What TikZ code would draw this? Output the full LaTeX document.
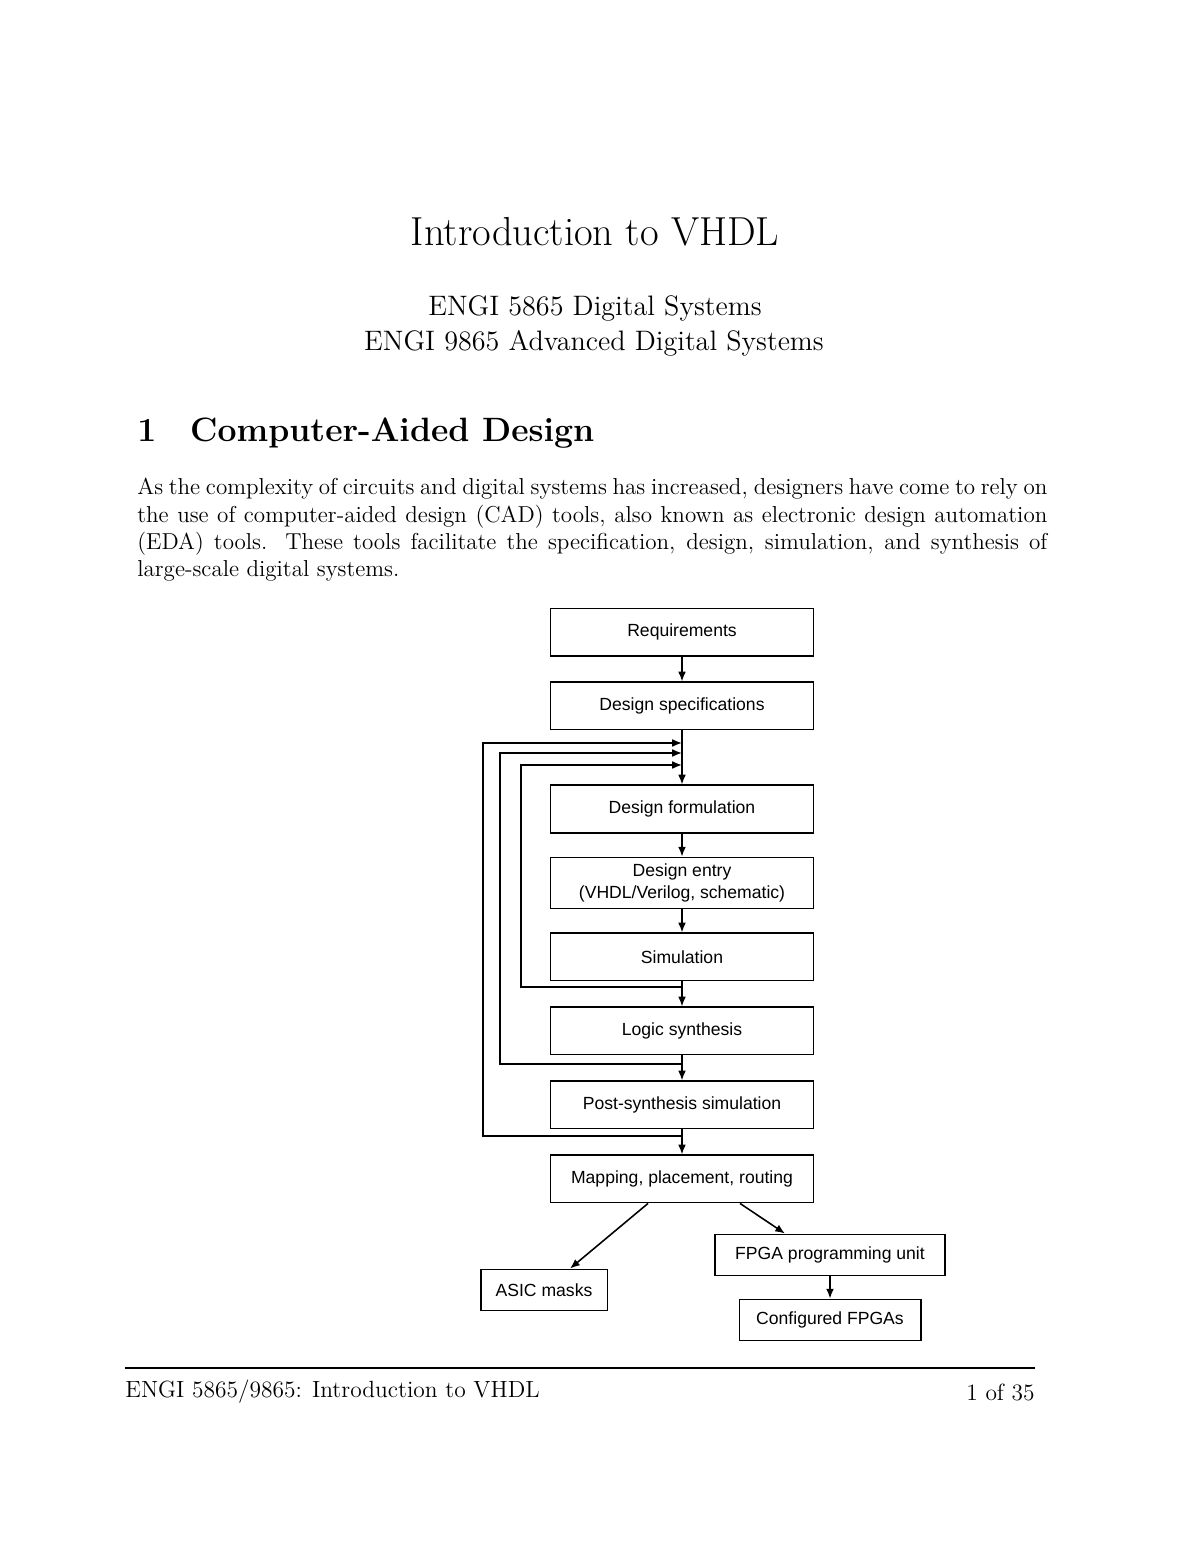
\documentclass[tikz,border=0pt]{standalone}
\usepackage{fontspec}
\newfontfamily\diagfont{Liberation Sans}
\usepackage{tikz}
\usetikzlibrary{arrows.meta, calc}
\tikzstyle{stage} = [rectangle, draw, fill=white, line width=0.9pt,
    align=center, minimum width=4.73cm, minimum height=0.85cm,
    font=\diagfont\fontsize{9}{11}\selectfont]
\tikzstyle{product} = [stage, minimum height=0.74cm]
\tikzstyle{line} = [draw, line width=0.8pt, -{Latex[length=5pt,width=4pt]}]
\tikzstyle{feedback} = [line]

\begin{document}
\begin{tikzpicture}[x=0.01799cm, y=-0.01799cm, node distance=1.331cm]
    \useasboundingbox (0,0) rectangle (1200,1553);
    % Page text
    \node [anchor=base] (title) at (595,246) {\fontsize{20.74}{25}\selectfont Introduction to VHDL};
    \node [anchor=base] (course) at (595,316) {\fontsize{14.4}{17}\selectfont ENGI 5865 Digital Systems};
    \node [anchor=base] (course2) at (594,350) {\fontsize{14.4}{17}\selectfont ENGI 9865 Advanced Digital Systems};
    \node [anchor=base west, inner sep=0] (section) at (137,441) {\fontsize{17.28}{21}\selectfont\bfseries 1\quad Computer-Aided Design};
    \node [anchor=north west, inner sep=0, text width=16.37cm, align=justify,
        font=\fontsize{11.8}{13.9}\selectfont] (intro) at (137,478)
        {\noindent As the complexity of circuits and digital systems has increased, designers have come to rely on\linebreak
        the use of computer-aided design (CAD) tools, also known as electronic design automation\linebreak
        (EDA) tools.  These tools facilitate the specification, design, simulation, and synthesis of\linebreak
        large-scale digital systems.};
    % Nodes
    \node [stage] (req) at (682,632) {Requirements};
    \node [stage, below of=req] (spec) {Design specifications};
    \node [stage, below of=spec, node distance=1.853cm] (form) {Design formulation};
    \node [stage, below of=form] (entry) {Design entry\\(VHDL/Verilog, schematic)};
    \node [stage, below of=entry] (sim) {Simulation};
    \node [stage, below of=sim] (synth) {Logic synthesis};
    \node [stage, below of=synth] (postsim) {Post-synthesis simulation};
    \node [stage, below of=postsim] (map) {Mapping, placement, routing};
    \node [product, minimum width=2.28cm] (asic) at (544,1290) {ASIC masks};
    \node [product, minimum width=4.14cm] (fpga) at (830,1255) {FPGA programming unit};
    \node [product, minimum width=3.26cm, below of=fpga, node distance=1.17cm] (conf) {Configured FPGAs};
    % Taps and inputs of the loops
    \coordinate (tap1) at ($(sim.south)+(0,5.5)$);
    \coordinate (tap2) at ($(synth.south)+(0,8.5)$);
    \coordinate (tap3) at ($(postsim.south)+(0,6.5)$);
    \coordinate (in1) at ($(spec.south)+(0,34.5)$);
    \coordinate (in2) at ($(spec.south)+(0,22.5)$);
    \coordinate (in3) at ($(spec.south)+(0,12.5)$);
    % Edges
    \path [line] (req) -- (spec);
    \path [line] (spec) -- (form);
    \path [line] (form) -- (entry);
    \path [line] (entry) -- (sim);
    \path [line] (sim) -- (synth);
    \path [line] (synth) -- (postsim);
    \path [line] (postsim) -- (map);
    \path [feedback] (tap1) -- ++(-161,0) |- (in1);
    \path [feedback] (tap2) -- ++(-182,0) |- (in2);
    \path [feedback] (tap3) -- ++(-199,0) |- (in3);
    \path [line] ($(map.south)+(-34,0)$) -- ($(asic.north)+(26,0)$);
    \path [line] ($(map.south)+(58,0)$) -- ($(fpga.north)+(-45,0)$);
    \path [line] (fpga) -- (conf);
    % Footer
    \draw [line width=0.6pt] (125,1368) -- (1035,1368);
    \node [anchor=base west, inner sep=0] (foot) at (125,1397) {\fontsize{12}{14}\selectfont ENGI 5865/9865: Introduction to VHDL};
    \node [anchor=base east, inner sep=0] (page) at (1035,1400) {\fontsize{12}{14}\selectfont 1 of 35};
\end{tikzpicture}
\end{document}
